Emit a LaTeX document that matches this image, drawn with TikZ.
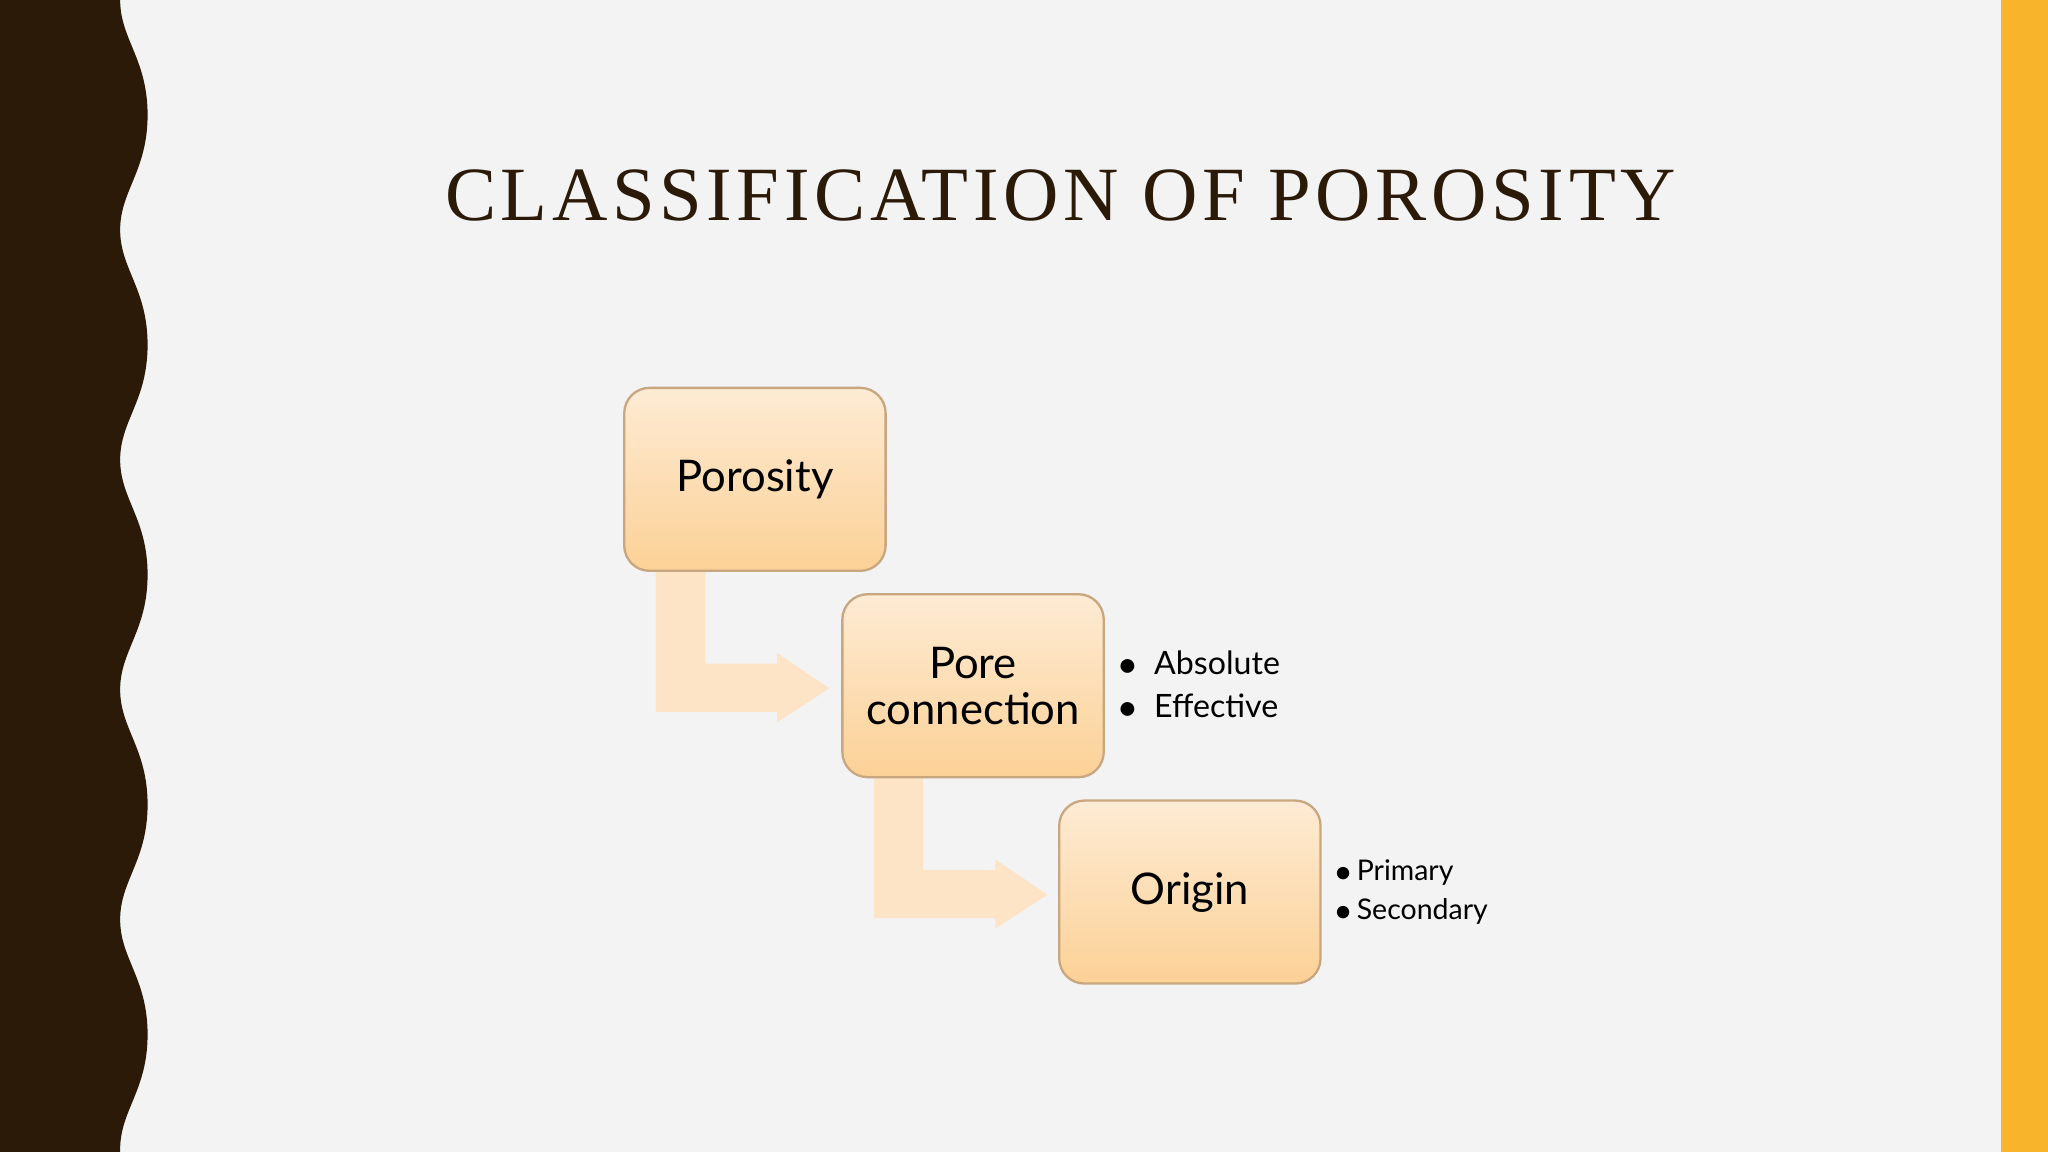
\documentclass[tikz,border=0pt]{standalone}
\usepackage{fontspec}
\setmainfont{Lato}
\newfontfamily\titlefont[LetterSpace=6]{Liberation Serif}
\definecolor{bg}{HTML}{F3F3F4}
\definecolor{brownband}{HTML}{2B1A08}
\definecolor{goldband}{HTML}{F8B52C}
\definecolor{boxtop}{HTML}{FDEBD4}
\definecolor{boxbot}{HTML}{FCD196}
\definecolor{boxline}{HTML}{C8A680}
\definecolor{arrowfill}{HTML}{FDE4C6}
\tikzset{
  stage/.style={draw=boxline, line width=0.5pt, rounded corners=5.5pt, top color=boxtop, bottom color=boxbot,
    minimum width=2cm, minimum height=1.4cm, align=center, font=\fontsize{9.5}{11}\selectfont, text=black},
  bullets/.style={anchor=west, align=left, text=black, inner sep=0pt},
  bentarrow/.style={fill=arrowfill, draw=none}
}
\begin{document}
\begin{tikzpicture}[x=0.01cm,y=-0.01cm]
\fill[bg] (0,0) rectangle (1568,882);
\useasboundingbox (0,0) rectangle (1568,882);
\fill[goldband] (1532,0) rectangle (1568,882);
\fill[brownband] (0,0) -- (92,0)
  \foreach \k in {0,...,4} { .. controls (92,{\k*176+30}) and (113,{\k*176+45}) .. (113,{\k*176+88})
  .. controls (113,{\k*176+131}) and (92,{\k*176+146}) .. (92,{\k*176+176}) }
  -- (92,882) -- (0,882) -- cycle;
\node[font=\titlefont\fontsize{16.7}{20}\selectfont, text=brownband] (title) at (812,150) {CLASSIFICATION OF POROSITY};
\fill[bentarrow] (502,437) -- (540,437) -- (540,508) -- (595,508) -- (595,500) -- (635,527) -- (595,553) -- (595,545) -- (502,545) -- cycle;
\fill[bentarrow] (669,595) -- (707,595) -- (707,666) -- (762,666) -- (762,658) -- (802,685) -- (762,711) -- (762,703) -- (669,703) -- cycle;
\node[stage] (por) at (578,367) {Porosity};
\node[stage] (pore) at (745,525) {Pore\\[-1pt]connection};
\node[stage] (orig) at (911,683) {Origin};
\node[bullets, font=\fontsize{7}{9.5}\selectfont] (b1) at (856,524) {$\bullet$\ \ Absolute\\$\bullet$\ \ Effective};
\node[bullets, font=\fontsize{6.2}{8.5}\selectfont] (b2) at (1021,683) {$\bullet$\,Primary\\$\bullet$\,Secondary};
\end{tikzpicture}
\end{document}
